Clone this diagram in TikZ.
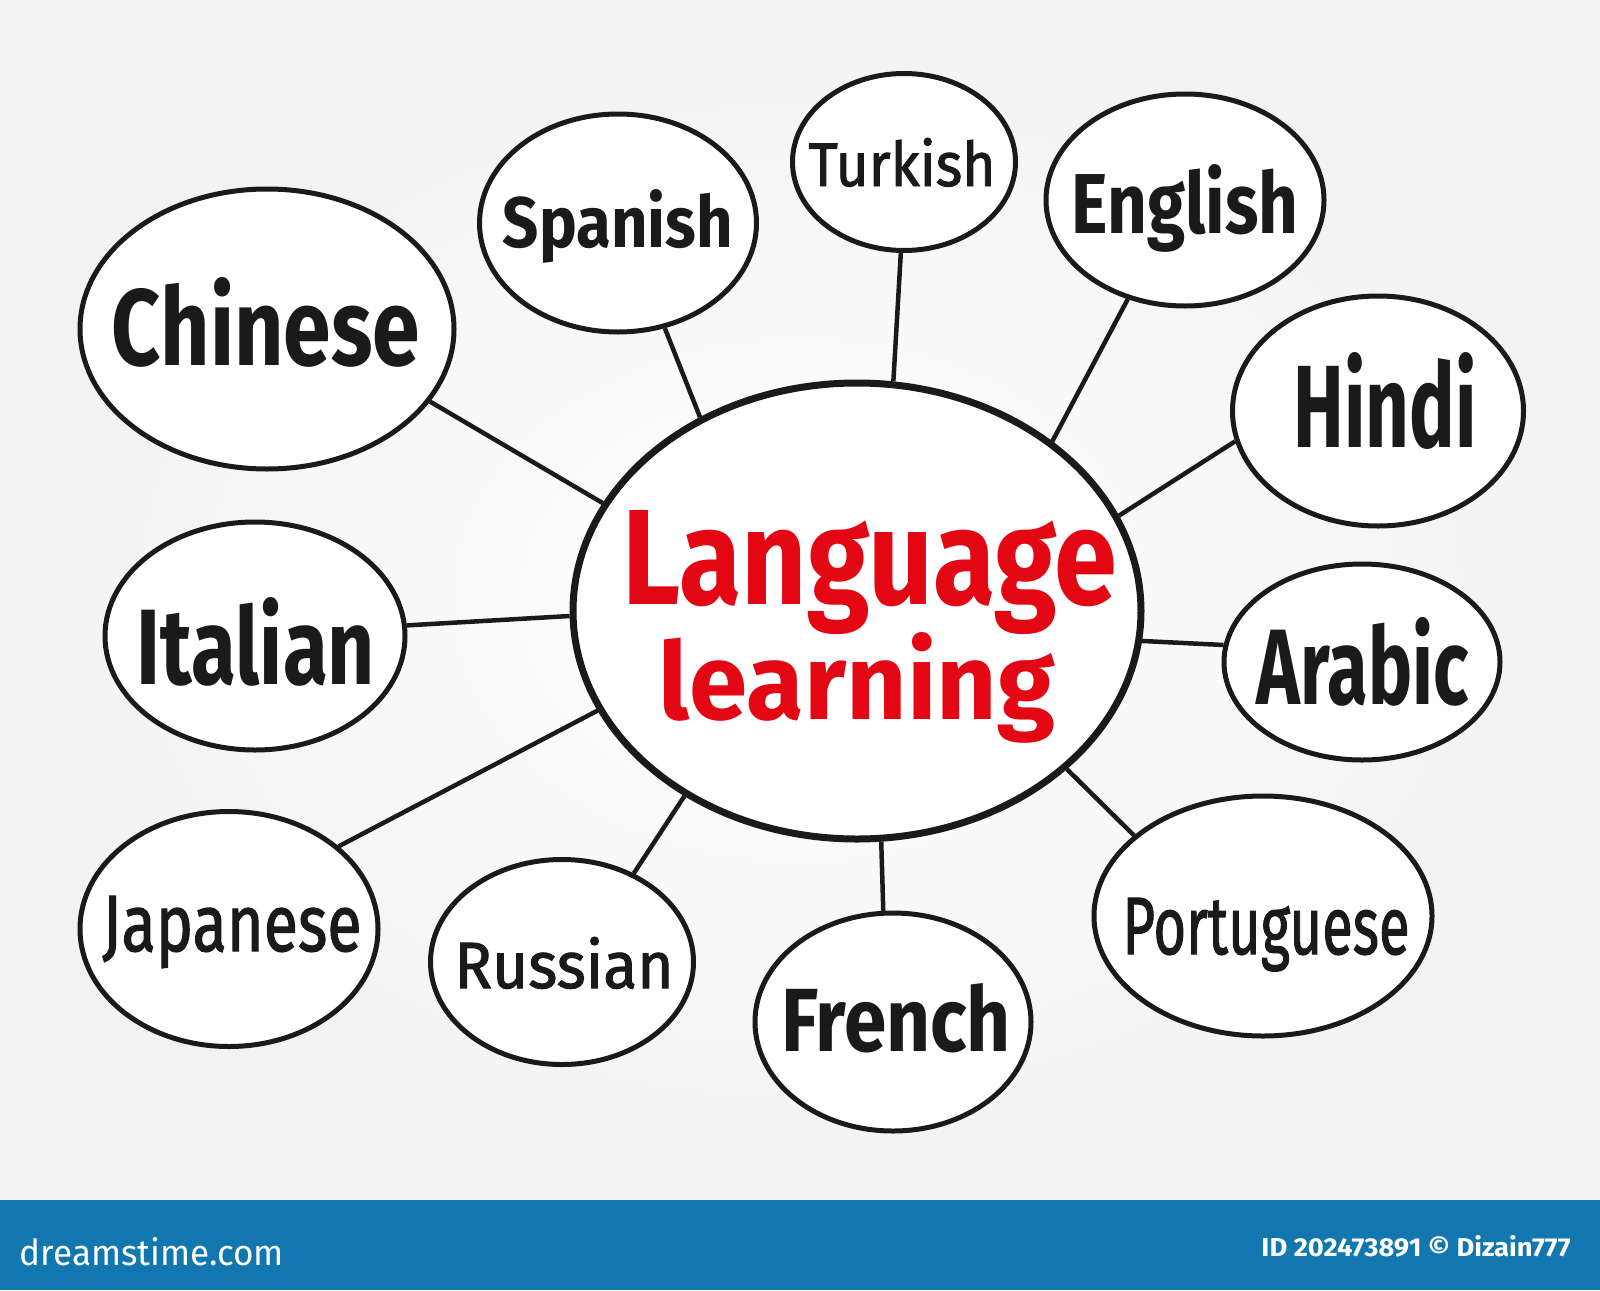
\documentclass[tikz,border=0pt]{standalone}
\usepackage{fontspec}
\setmainfont{Fira Sans}
\newfontfamily\medfont[FakeBold=1.6]{Fira Sans}
\usetikzlibrary{shapes.geometric}
\definecolor{ink}{HTML}{1A1A1A}
\definecolor{redtxt}{HTML}{E30613}
\definecolor{bannerblue}{HTML}{1177AE}
\newcommand{\fitto}[3]{\resizebox{#1pt}{#2pt}{\bfseries #3}}
\newcommand{\fitmed}[3]{\resizebox{#1pt}{#2pt}{\medfont #3}}
\begin{document}
\begin{tikzpicture}[x=1pt,y=-1pt,
  bub/.style={ellipse, draw=ink, fill=white, line width=5pt, inner sep=0pt},
  hub/.style={ellipse, draw=ink, fill=white, line width=7pt, inner sep=0pt,
              minimum width=568pt, minimum height=456pt},
  link/.style={draw=ink, line width=4.5pt},
  lbl/.style={inner sep=0pt, anchor=base, text=ink},
]
\useasboundingbox (0,0) rectangle (1600,1290);
\shade[inner color=white, outer color=black!5] (0,0) rectangle (1600,1200);
\fill[bannerblue] (0,1200) rectangle (1600,1290);

\node[hub] (hub) at (857,611) {};
\node[bub, minimum width=374pt, minimum height=280pt] (chi) at (267,329) {};
\node[bub, minimum width=277pt, minimum height=218pt] (spa) at (618,223) {};
\node[bub, minimum width=223pt, minimum height=177pt] (tur) at (904,162) {};
\node[bub, minimum width=278pt, minimum height=212pt] (eng) at (1185,200) {};
\node[bub, minimum width=291pt, minimum height=230pt] (hin) at (1378,411) {};
\node[bub, minimum width=276pt, minimum height=196pt] (ara) at (1362,662) {};
\node[bub, minimum width=338pt, minimum height=240pt] (por) at (1263,916) {};
\node[bub, minimum width=276pt, minimum height=218pt] (fre) at (893,1022) {};
\node[bub, minimum width=263pt, minimum height=205pt] (rus) at (562,962) {};
\node[bub, minimum width=298pt, minimum height=235pt] (jap) at (229,929) {};
\node[bub, minimum width=300pt, minimum height=228pt] (ita) at (255,636) {};

\draw[link] (chi.-24) -- (hub.157);
\draw[link] (spa.-66) -- (hub.129);
\draw[link] (tur.-92) -- (hub.81);
\draw[link] (eng.-120) -- (hub.41);
\draw[link] (hin.-168) -- (hub.20);
\draw[link] (ara.173) -- (hub.-6);
\draw[link] (por.148) -- (hub.-37);
\draw[link] (fre.95) -- (hub.-84);
\draw[link] (rus.51) -- (hub.-133);
\draw[link] (jap.37) -- (hub.-159);
\draw[link] (ita.4) -- (hub.181);

\node[lbl] (chiT) at (266,365) {\fitto{308}{88}{Chinese}};
\node[lbl] (spaT) at (618,247) {\fitto{230}{58}{Spanish}};
\node[lbl] (turT) at (902,186) {\fitmed{187}{48}{Turkish}};
\node[lbl] (engT) at (1185,233) {\fitto{227}{69}{English}};
\node[lbl] (hinT) at (1385,447) {\fitto{183}{95}{Hindi}};
\node[lbl] (araT) at (1363,704) {\fitto{212}{87}{Arabic}};
\node[lbl] (porT) at (1266,954) {\fitmed{287}{56}{Portuguese}};
\node[lbl] (freT) at (896,1051) {\fitto{230}{68}{French}};
\node[lbl] (rusT) at (564,988) {\fitmed{219}{51}{Russian}};
\node[lbl] (japT) at (232,951) {\fitmed{259}{55}{Japanese}};
\node[lbl] (itaT) at (256,684) {\fitto{238}{87}{Italian}};
\node[lbl, text=redtxt] (title1) at (870,604) {\fitto{495}{94}{Language}};
\node[lbl, text=redtxt] (title2) at (857,719) {\fitto{396}{87}{learning}};

\node[lbl, text=white] (ds) at (152,1265) {\resizebox{264pt}{28pt}{dreamstime.com}};
\node[lbl, text=white] (idtxt) at (1416,1256) {\fitto{309}{21}{ID 202473891 © Dizain777}};
\end{tikzpicture}
\end{document}
